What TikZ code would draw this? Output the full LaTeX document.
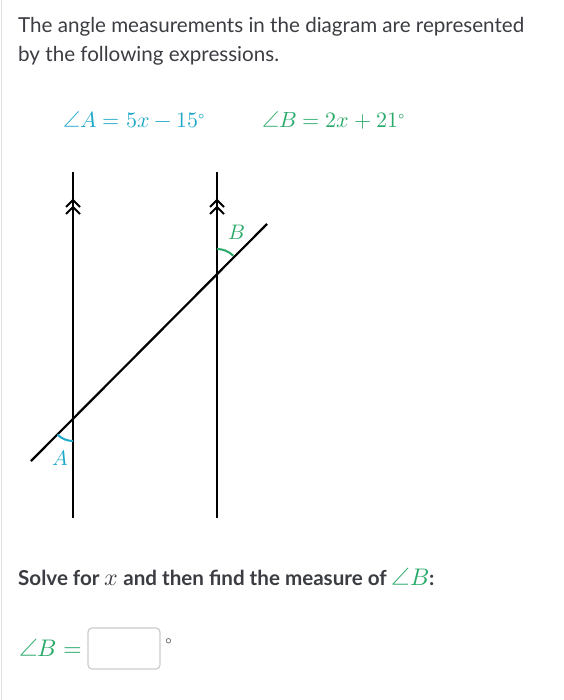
\documentclass[tikz,border=0pt]{standalone}
\usepackage{fontspec}
\usepackage{unicode-math}
\setmainfont{Lato}
\setmathfont{Latin Modern Math}
\definecolor{txt}{HTML}{3B3D42}
\definecolor{kablue}{HTML}{1FA9C9}
\definecolor{kagreen}{HTML}{2AAA6A}
\definecolor{boxgray}{HTML}{CCCCCC}
\newcommand{\qmath}[1]{{\fontsize{24}{24}\selectfont$#1$}}
\begin{document}
\begin{tikzpicture}[x=1pt,y=-1pt,
  para/.style={anchor=base west,inner sep=0pt,text=txt,font=\fontsize{20.6}{24}\selectfont},
  mathtxt/.style={anchor=base west,inner sep=0pt,font=\fontsize{24}{24}\selectfont},
  eqtxt/.style={anchor=base west,inner sep=0pt,font=\fontsize{22}{22}\selectfont},
  lineblk/.style={line width=2.2pt,black},
  chev/.style={line width=1.8pt,black},
  arcA/.style={line width=2pt,kablue},
  arcB/.style={line width=2pt,kagreen}]
\useasboundingbox (0,0) rectangle (563,700);
\fill[white] (0,0) rectangle (563,700);
\draw[line width=1pt,black!12] (1.5,0) -- (1.5,700);
% text
\node[para] (l1) at (18,33) {The angle measurements in the diagram are represented};
\node[para] (l2) at (18,62) {by the following expressions.};
\node[eqtxt,text=kablue] (eqA) at (63,128) {$\angle A = 5x - 15^\circ$};
\node[eqtxt,text=kagreen] (eqB) at (262,128) {$\angle B = 2x + 21^\circ$};
% lines
\coordinate (L1) at (73,172); \coordinate (L2) at (73,518);
\coordinate (R1) at (217,172); \coordinate (R2) at (217,518);
\coordinate (T1) at (31,461); \coordinate (T2) at (267,224);
\coordinate (IA) at (73,419); \coordinate (IB) at (217,272);
\draw[lineblk] (L1) -- (L2);
\draw[lineblk] (R1) -- (R2);
\draw[lineblk] (T1) -- (T2);
% chevrons
\foreach \xx/\nm in {73/l,217/r}{
  \draw[chev] (\xx-7,207) -- (\xx,200) -- (\xx+7,207);
  \draw[chev] (\xx-7,214) -- (\xx,207) -- (\xx+7,214);
}
% angles
\draw[arcB] ([shift={(0,-23)}]IB) arc[start angle=-90,end angle=-45,radius=23];
\draw[arcA] ([shift={(0,22)}]IA) arc[start angle=90,end angle=135,radius=22];
\node[mathtxt,text=kagreen,font=\fontsize{21}{21}\selectfont,anchor=center] (lB) at (237,232) {$B$};
\node[mathtxt,text=kablue,font=\fontsize{21}{21}\selectfont,anchor=center] (lA) at (60,458) {$A$};
% question
\node[para,font=\fontsize{20.6}{24}\selectfont\bfseries] (q) at (18,585) {Solve for \qmath{x} and then find the measure of {\color{kagreen}\qmath{\angle B}}:};
\node[mathtxt,text=kagreen] (ans) at (19,656) {$\angle B =$};
\draw[boxgray,line width=1.2pt,rounded corners=4pt] (88,628) rectangle (160,669);
\node[mathtxt,text=txt] (deg) at (165,654) {$^\circ$};
\end{tikzpicture}
\end{document}
